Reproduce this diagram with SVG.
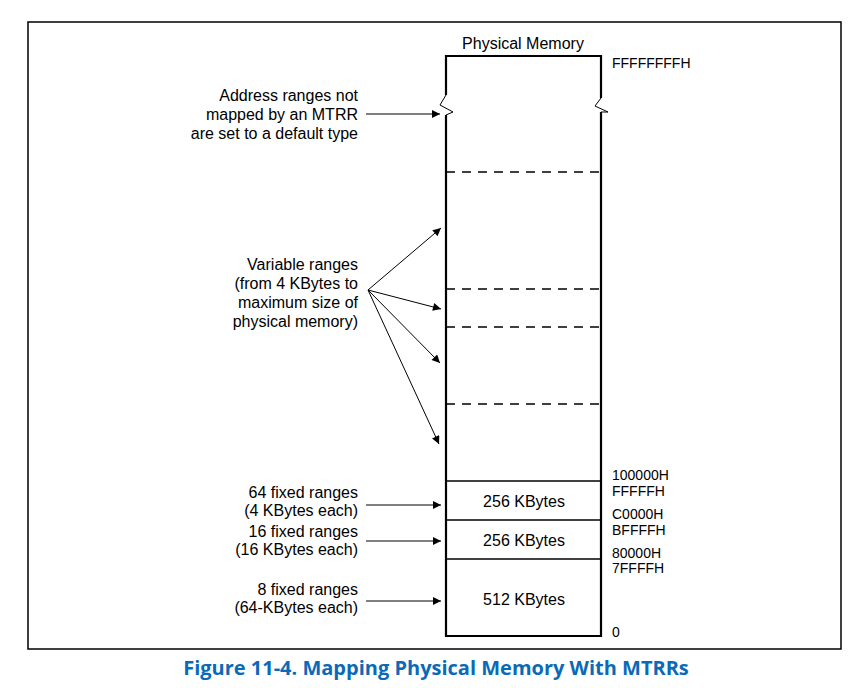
<svg xmlns="http://www.w3.org/2000/svg" width="866" height="688" viewBox="0 0 866 688">
<defs>
<marker id="ah" viewBox="0 0 10 10" refX="10" refY="5" markerWidth="10" markerHeight="8" orient="auto" markerUnits="userSpaceOnUse"><path d="M0,0 L10,5 L0,10 z" fill="#000"/></marker>
<style>
text{font-family:"Liberation Sans",Arial,sans-serif;font-size:16px;fill:#000}
.r{text-anchor:end}
.m{text-anchor:middle}
.a{font-size:14px}
.c{stroke:#000;stroke-width:1;fill:none}
.d{stroke:#000;stroke-width:1.3;stroke-dasharray:9,7}
</style>
</defs>
<rect width="866" height="688" fill="#fff"/>
<rect x="28" y="22" width="813" height="627" fill="none" stroke="#000" stroke-width="1.5"/>
<g id="memory">
<text x="523" y="49" class="m">Physical Memory</text>
<path d="M446,95 L446,56 L601,56 L601,98" fill="none" stroke="#000" stroke-width="2.2"/>
<path d="M446,115 L446,636 L601,636 L601,112" fill="none" stroke="#000" stroke-width="2.2"/>
<path d="M446,95 L440,105 L453,112 L446,115" class="c"/>
<path d="M601,98 L595,106 L608,112 L601,112" class="c"/>
<line x1="446" y1="172" x2="601" y2="172" class="d"/>
<line x1="446" y1="289" x2="601" y2="289" class="d"/>
<line x1="446" y1="327" x2="601" y2="327" class="d"/>
<line x1="446" y1="404" x2="601" y2="404" class="d"/>
<line x1="446" y1="481" x2="601" y2="481" stroke="#000" stroke-width="1.5"/>
<line x1="446" y1="520" x2="601" y2="520" stroke="#000" stroke-width="1.5"/>
<line x1="446" y1="559" x2="601" y2="559" stroke="#000" stroke-width="1.5"/>
<text x="524" y="507" class="m">256 KBytes</text>
<text x="524" y="546" class="m">256 KBytes</text>
<text x="524" y="605" class="m">512 KBytes</text>
</g>
<g id="addresses">
<text x="612" y="68" class="a">FFFFFFFFH</text>
<text x="612" y="480" class="a">100000H</text>
<text x="612" y="496" class="a">FFFFFH</text>
<text x="612" y="519" class="a">C0000H</text>
<text x="612" y="535" class="a">BFFFFH</text>
<text x="612" y="558" class="a">80000H</text>
<text x="612" y="573" class="a">7FFFFH</text>
<text x="612" y="637" class="a">0</text>
</g>
<g id="labels">
<text x="358" y="101" class="r">Address ranges not</text>
<text x="358" y="120" class="r">mapped by an MTRR</text>
<text x="358" y="139" class="r">are set to a default type</text>
<text x="358" y="270" class="r">Variable ranges</text>
<text x="358" y="289" class="r">(from 4 KBytes to</text>
<text x="358" y="308" class="r">maximum size of</text>
<text x="358" y="327" class="r">physical memory)</text>
<text x="358" y="498" class="r">64 fixed ranges</text>
<text x="358" y="516" class="r">(4 KBytes each)</text>
<text x="358" y="537" class="r">16 fixed ranges</text>
<text x="358" y="555" class="r">(16 KBytes each)</text>
<text x="358" y="595" class="r">8 fixed ranges</text>
<text x="358" y="613" class="r">(64-KBytes each)</text>
</g>
<g id="connectors" stroke="#000" stroke-width="1" marker-end="url(#ah)">
<line x1="366" y1="114" x2="440" y2="114"/>
<line x1="368" y1="290" x2="441" y2="228"/>
<line x1="368" y1="290" x2="441" y2="309"/>
<line x1="368" y1="290" x2="440" y2="363"/>
<line x1="368" y1="290" x2="439" y2="444"/>
<line x1="366" y1="505" x2="441" y2="505"/>
<line x1="366" y1="541" x2="441" y2="541"/>
<line x1="366" y1="601" x2="441" y2="601"/>
</g>
<text x="436" y="675" class="m" style="font-family:'Open Sans','Liberation Sans',sans-serif;font-size:20px;font-weight:bold;fill:#0a6ab8">Figure 11-4.  Mapping Physical Memory With MTRRs</text>
</svg>
